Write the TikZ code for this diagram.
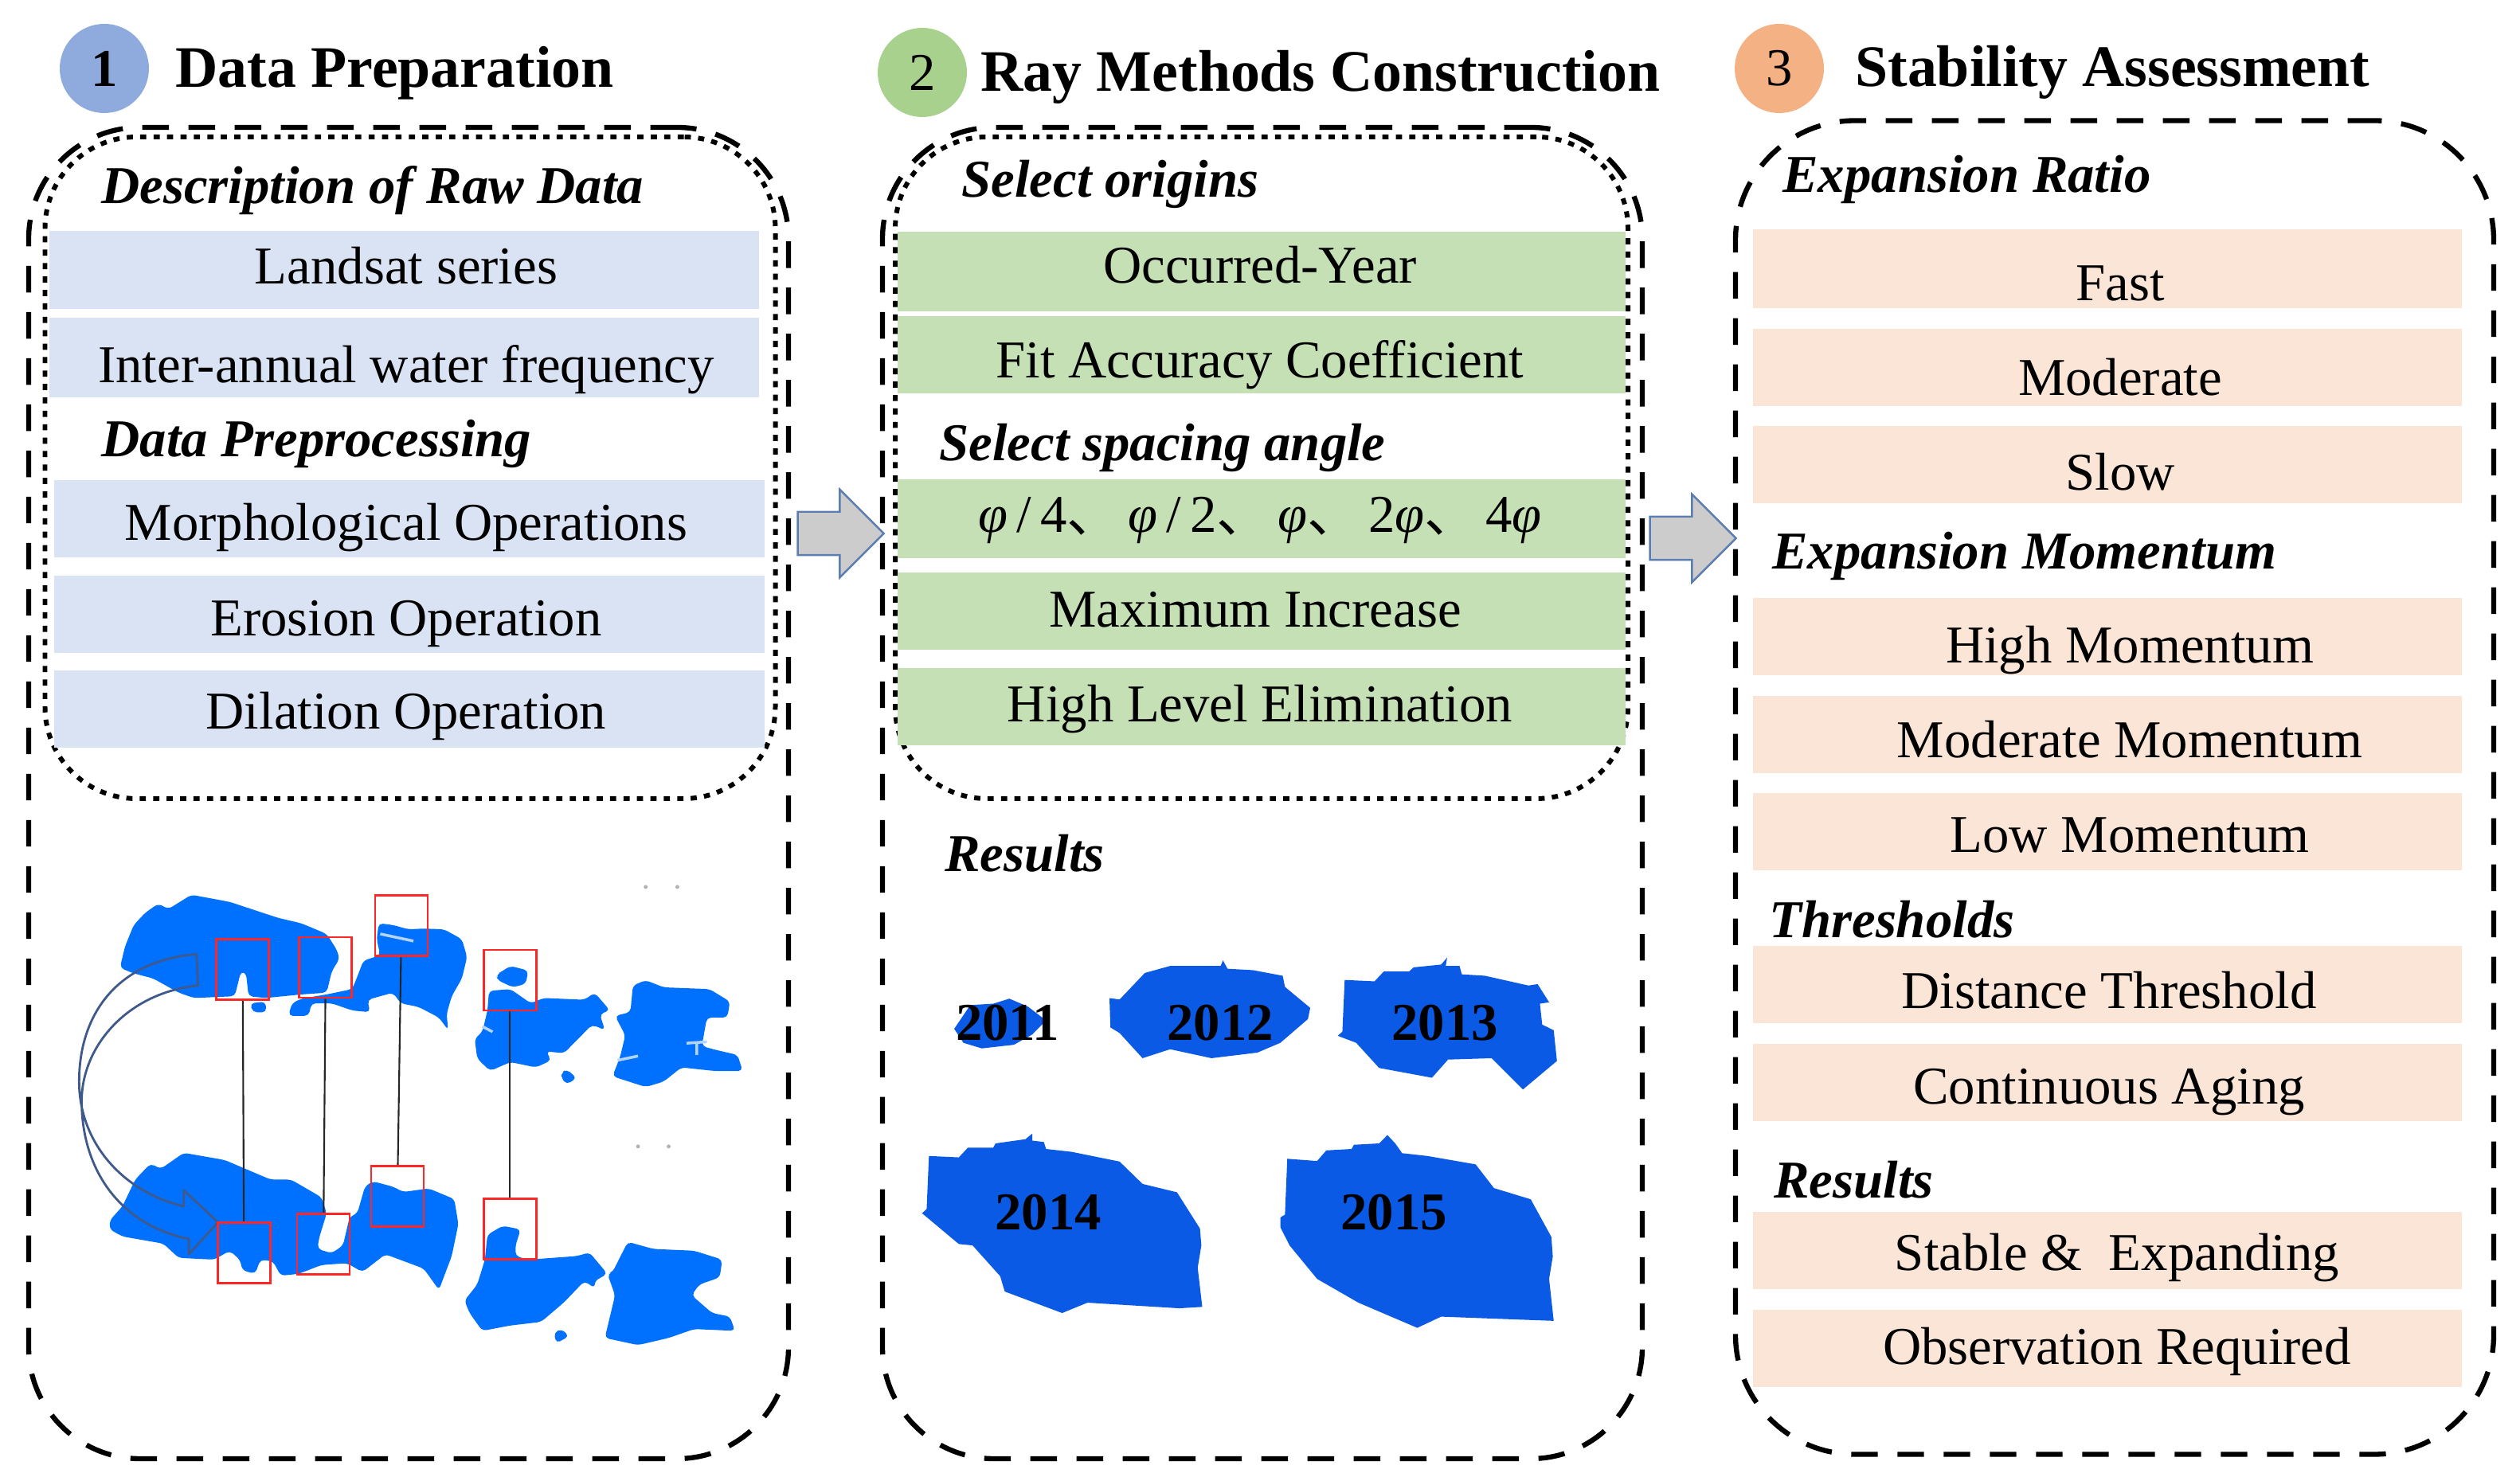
\documentclass[tikz,border=0pt]{standalone}
\usepackage{fontspec}
\setmainfont{Liberation Serif}
\newfontfamily\cjk{Noto Sans CJK SC}
\usetikzlibrary{positioning, shapes.arrows}
\definecolor{barblue}{HTML}{DAE3F3}
\definecolor{bargreen}{HTML}{C5E0B4}
\definecolor{barorange}{HTML}{FBE5D6}
\definecolor{waterblue}{HTML}{0070FF}
\definecolor{yearblue}{HTML}{0A5AE6}
\definecolor{numblue}{HTML}{8FAADC}
\definecolor{numgreen}{HTML}{A9D18E}
\definecolor{numorange}{HTML}{F4B183}
\definecolor{flowline}{HTML}{5B7DB1}
\definecolor{curveline}{HTML}{3F5A8A}
\begin{document}
\begin{tikzpicture}[
  font=\fontsize{19}{23}\selectfont,
  head/.style={font=\fontsize{21}{24}\selectfont\bfseries, anchor=base west},
  sub/.style={font=\fontsize{19}{23}\selectfont\bfseries\itshape, anchor=base west},
  num/.style={circle, minimum size=1.12cm, inner sep=0pt},
  outer/.style={draw, line width=1.8pt, dash pattern=on 9.5pt off 7pt, rounded corners=1.4cm},
  inner/.style={draw, line width=1.7pt, dash pattern=on 2.2pt off 2.6pt, rounded corners=1.15cm},
  bar/.style={minimum height=0.97cm, inner sep=0pt},
  bartext/.style={anchor=base, inner sep=0pt},
  year/.style={font=\fontsize{19}{23}\selectfont\bfseries, anchor=base, inner sep=0pt},
  water/.style={fill=waterblue, rounded corners=1.5pt},
  redbox/.style={draw=red!85!white, line width=0.8pt, minimum width=0.66cm, minimum height=0.76cm, inner sep=0pt},
  link/.style={draw=black!85, line width=0.6pt},
  flow/.style={single arrow, draw=flowline, fill=black!20, line width=0.7pt,
    minimum height=1.08cm, single arrow head extend=0.28cm,
    single arrow tip angle=90, inner xsep=0pt, inner ysep=0.26cm}
]
\useasboundingbox (0,0) rectangle (31.64,18.59);

% panels
\node[outer, minimum width=9.54cm, minimum height=16.72cm] (panelone) at (5.13,8.63) {};
\node[outer, minimum width=9.54cm, minimum height=16.72cm] (paneltwo) at (15.85,8.63) {};
\node[outer, minimum width=9.52cm, minimum height=16.75cm, rounded corners=1.5cm] (panelthree) at (26.55,8.70) {};
\node[inner, minimum width=9.17cm, minimum height=8.31cm] (dotone) at (5.15,12.715) {};
\node[inner, minimum width=9.20cm, minimum height=8.31cm] (dottwo) at (15.84,12.715) {};

% headers
\node[num, fill=numblue] (numone) at (1.31,17.73) {\bfseries 1};
\node[num, fill=numgreen] (numtwo) at (11.58,17.68) {2};
\node[num, fill=numorange] (numthree) at (22.34,17.73) {3};
\node[head] (headone) at (2.08,17.49) {Data Preparation};
\node[head] (headtwo) at (12.19,17.44) {Ray Methods Construction};
\node[head] (headthree) at (23.17,17.50) {Stability Assessment};

% first column
\node[sub] (descr) at (1.15,16.03) {Description of Raw Data};
\node[bar, fill=barblue, minimum width=8.91cm, minimum height=0.98cm] (landsat) at (5.07,15.20) {};
\node[bar, fill=barblue, minimum width=8.91cm, minimum height=1.0cm] (freq) at (5.07,14.10) {};
\node[sub] (prep) at (1.15,12.85) {Data Preprocessing};
\node[bar, fill=barblue, minimum width=8.92cm] (morph) at (5.14,12.07) {};
\node[bar, fill=barblue, minimum width=8.92cm, below=0.21cm of morph] (erosion) {};
\node[bar, fill=barblue, minimum width=8.92cm, below=0.21cm of erosion] (dilation) {};
\node[bartext] (landsattext) at (5.10,15.02) {Landsat series};
\node[bartext] (freqtext) at (5.10,13.78) {Inter-annual water frequency};
\node[bartext] (morphtext) at (5.10,11.80) {Morphological Operations};
\node[bartext] (erosiontext) at (5.10,10.60) {Erosion Operation};
\node[bartext] (dilationtext) at (5.10,9.43) {Dilation Operation};

% water maps
\begin{scope}[shift={(0,8.09)}, x=0.00641cm, y=-0.004464cm]
\fill[water] (235,370) -- (245,310) -- (262,250) -- (285,215) -- (310,190) -- (330,205) -- (375,165) -- (450,185) -- (545,230) -- (590,245) -- (640,275) -- (660,320) -- (665,345) -- (650,380) -- (640,440) -- (590,445) -- (520,455) -- (487,450) -- (482,385) -- (472,380) -- (460,450) -- (380,455) -- (350,440) -- (300,400) -- (260,385) -- cycle;
\fill[water] (490,470) -- (520,465) -- (522,495) -- (495,495) -- cycle;
\fill[water] (565,505) -- (572,470) -- (590,457) -- (640,445) -- (690,430) -- (700,395) -- (712,350) -- (745,335) -- (738,290) -- (742,245) -- (770,250) -- (800,262) -- (830,260) -- (870,262) -- (905,290) -- (915,340) -- (905,400) -- (885,450) -- (875,500) -- (878,545) -- (860,510) -- (820,480) -- (785,470) -- (770,440) -- (720,460) -- (725,495) -- (690,490) -- (650,470) -- (610,470) -- (605,505) -- cycle;
\fill[water] (972,390) -- (1000,365) -- (1035,378) -- (1030,415) -- (1005,425) -- (975,405) -- cycle;
\fill[water] (958,435) -- (1000,430) -- (1040,470) -- (1065,455) -- (1145,460) -- (1165,440) -- (1195,490) -- (1175,500) -- (1185,545) -- (1160,530) -- (1105,610) -- (1070,605) -- (1080,630) -- (1050,650) -- (1000,635) -- (960,660) -- (935,625) -- (930,570) -- (945,550) -- (955,490) -- cycle;
\fill[water] (1100,665) -- (1110,655) -- (1130,680) -- (1110,698) -- (1100,680) -- cycle;
\fill[water] (1205,505) -- (1235,495) -- (1240,420) -- (1265,405) -- (1300,425) -- (1390,430) -- (1430,465) -- (1425,510) -- (1385,510) -- (1375,590) -- (1400,600) -- (1445,615) -- (1455,660) -- (1400,660) -- (1335,650) -- (1300,690) -- (1265,705) -- (1200,675) -- (1215,620) -- (1225,560) -- cycle;
\draw[white!70!waterblue, line width=1pt] (745,275) -- (810,295) (945,535) -- (965,550) (1345,582) -- (1385,578) (1365,580) -- (1365,615) (1210,630) -- (1250,618);
\fill[water] (215,1080) -- (240,1040) -- (265,965) -- (295,920) -- (315,935) -- (360,890) -- (440,910) -- (530,965) -- (570,965) -- (630,1015) -- (640,1060) -- (625,1130) -- (622,1160) -- (650,1172) -- (672,1150) -- (685,1070) -- (700,1060) -- (715,985) -- (730,970) -- (770,985) -- (790,1000) -- (840,990) -- (890,1020) -- (898,1090) -- (885,1180) -- (860,1275) -- (830,1215) -- (755,1175) -- (710,1225) -- (680,1200) -- (630,1205) -- (585,1230) -- (550,1235) -- (535,1195) -- (510,1190) -- (500,1230) -- (475,1220) -- (470,1190) -- (450,1165) -- (420,1190) -- (350,1185) -- (320,1145) -- (240,1125) -- (215,1105) -- cycle;
\fill[water] (950,1190) -- (955,1120) -- (985,1095) -- (1020,1105) -- (1010,1150) -- (1010,1180) -- (1035,1190) -- (1130,1180) -- (1155,1170) -- (1190,1230) -- (1165,1250) -- (1165,1270) -- (1145,1250) -- (1105,1310) -- (1060,1365) -- (1000,1375) -- (945,1390) -- (920,1340) -- (910,1305) -- (935,1260) -- cycle;
\fill[water] (1085,1395) -- (1100,1385) -- (1115,1405) -- (1090,1425) -- cycle;
\fill[water] (1190,1230) -- (1200,1225) -- (1230,1140) -- (1280,1160) -- (1360,1165) -- (1415,1190) -- (1410,1240) -- (1370,1260) -- (1355,1290) -- (1395,1340) -- (1430,1350) -- (1440,1390) -- (1360,1385) -- (1310,1410) -- (1250,1430) -- (1185,1410) -- (1195,1350) -- (1205,1290) -- cycle;
\foreach \spotx/\spoty in {1265/143, 1327/143, 1250/872, 1310/872}
  \fill[black!30] (\spotx,\spoty) circle (0.7pt);
% curved arrow
\draw[draw=curveline, line width=0.8pt, line join=round]
  (385,332) .. controls (230,350) and (155,500) .. (155,690) .. controls (155,860) and (240,1000) .. (360,1040)
  -- (360,995) -- (427,1085) -- (370,1175) -- (370,1132)
  .. controls (230,1090) and (160,930) .. (160,745) .. controls (160,590) and (250,440) .. (388,420) -- cycle;
% red boxes
\node[redbox] (topa) at (475.5,375) {};
\node[redbox] (topb) at (638,369) {};
\node[redbox] (topc) at (786.5,252.5) {};
\node[redbox] (topd) at (999,405) {};
\node[redbox] (lowa) at (478,1170.5) {};
\node[redbox] (lowb) at (633.5,1146) {};
\node[redbox] (lowc) at (778.5,1012.5) {};
\node[redbox] (lowd) at (999,1104) {};
\draw[link] (topa) -- (lowa);
\draw[link] (topb) -- (lowb);
\draw[link] (topc) -- (lowc);
\draw[link] (topd) -- (lowd);
\end{scope}

% second column
\node[sub] (origins) at (11.95,16.11) {Select origins};
\node[bar, fill=bargreen, minimum width=9.14cm, minimum height=1.0cm] (occurred) at (15.84,15.18) {};
\node[bar, fill=bargreen, minimum width=9.14cm] (fit) at (15.84,14.13) {};
\node[sub] (spacing) at (11.67,12.80) {Select spacing angle};
\node[bar, fill=bargreen, minimum width=9.14cm, minimum height=0.99cm] (angle) at (15.84,12.07) {};
\node[bar, fill=bargreen, minimum width=9.14cm, below=0.16cm of angle] (increase) {};
\node[bar, fill=bargreen, minimum width=9.14cm, below=0.22cm of increase] (elimination) {};
\node[bartext] (occurredtext) at (15.82,15.03) {Occurred-Year};
\node[bartext] (fittext) at (15.82,13.84) {Fit Accuracy Coefficient};
\node[bartext] (angletext) at (15.82,11.90) {{\itshape φ}\,/\,4{\cjk 、}\hspace{0.1cm}{\itshape φ}\,/\,2{\cjk 、}\hspace{0.1cm}{\itshape φ}{\cjk 、}\hspace{0.1cm}2{\itshape φ}{\cjk 、}\hspace{0.1cm}4{\itshape φ}};
\node[bartext] (increasetext) at (15.76,10.71) {Maximum Increase};
\node[bartext] (eliminationtext) at (15.82,9.52) {High Level Elimination};
\node[sub] (resultsmid) at (11.74,7.64) {Results};

% yearly extent
\begin{scope}[shift={(11,18.59-11.5)}, x=0.00577cm, y=-0.00351cm]
\fill[yearblue] (170,405) -- (205,320) -- (255,315) -- (290,297) -- (330,325) -- (370,375) -- (340,425) -- (300,462) -- (230,475) -- (190,455) -- cycle;
\fill[yearblue] (508,295) -- (530,300) -- (585,205) -- (640,180) -- (750,180) -- (755,160) -- (765,190) -- (820,195) -- (885,215) -- (890,255) -- (945,330) -- (940,370) -- (880,455) -- (830,490) -- (730,510) -- (640,478) -- (580,510) -- (530,420) -- (510,400) -- cycle;
\fill[yearblue] (1020,230) -- (1085,235) -- (1105,200) -- (1160,200) -- (1170,185) -- (1230,175) -- (1243,150) -- (1240,180) -- (1270,180) -- (1275,210) -- (1325,215) -- (1420,250) -- (1440,245) -- (1465,310) -- (1445,315) -- (1450,390) -- (1475,410) -- (1482,520) -- (1408,622) -- (1340,510) -- (1245,515) -- (1210,580) -- (1095,545) -- (1045,455) -- (1005,430) -- (1015,415) -- cycle;
\fill[yearblue] (115,860) -- (180,865) -- (200,830) -- (255,830) -- (260,815) -- (325,800) -- (340,780) -- (340,805) -- (365,810) -- (370,835) -- (425,845) -- (530,880) -- (580,960) -- (655,990) -- (705,1120) -- (708,1180) -- (700,1260) -- (710,1400) -- (660,1405) -- (460,1385) -- (405,1422) -- (280,1345) -- (270,1290) -- (210,1180) -- (180,1175) -- (100,1065) -- (110,1050) -- cycle;
\fill[yearblue] (895,870) -- (960,878) -- (980,840) -- (1035,835) -- (1040,820) -- (1095,815) -- (1113,785) -- (1130,815) -- (1145,850) -- (1200,860) -- (1305,890) -- (1345,975) -- (1425,1015) -- (1470,1150) -- (1473,1220) -- (1465,1300) -- (1475,1450) -- (1230,1435) -- (1178,1475) -- (1050,1385) -- (960,1300) -- (900,1180) -- (880,1115) -- (880,1080) -- (890,1070) -- cycle;
\end{scope}
\node[year] (yearone) at (12.65,5.52) {2011};
\node[year] (yeartwo) at (15.32,5.52) {2012};
\node[year] (yearthree) at (18.14,5.52) {2013};
\node[year] (yearfour) at (13.16,3.14) {2014};
\node[year] (yearfive) at (17.50,3.14) {2015};

% third column
\node[sub] (ratio) at (22.26,16.17) {Expansion Ratio};
\node[bar, fill=barorange, minimum width=8.90cm, minimum height=0.99cm] (fast) at (26.46,15.21) {};
\node[bar, fill=barorange, minimum width=8.90cm, below=0.24cm of fast] (moderate) {};
\node[bar, fill=barorange, minimum width=8.90cm, below=0.24cm of moderate] (slow) {};
\node[bar, fill=barorange, minimum width=8.90cm] (high) at (26.46,10.59) {};
\node[bar, fill=barorange, minimum width=8.90cm, below=0.24cm of high] (mid) {};
\node[bar, fill=barorange, minimum width=8.90cm, below=0.24cm of mid] (low) {};
\node[bar, fill=barorange, minimum width=8.90cm] (distance) at (26.46,6.22) {};
\node[bar, fill=barorange, minimum width=8.90cm, below=0.24cm of distance] (aging) {};
\node[bar, fill=barorange, minimum width=8.90cm] (stable) at (26.46,2.88) {};
\node[bar, fill=barorange, minimum width=8.90cm, below=0.24cm of stable] (observe) {};
\node[bartext] (fasttext) at (26.62,14.81) {Fast};
\node[bartext] (moderatetext) at (26.62,13.62) {Moderate};
\node[bartext] (slowtext) at (26.62,12.43) {Slow};
\node[sub] (momentum) at (22.13,11.44) {Expansion Momentum};
\node[bartext] (hightext) at (26.74,10.26) {High Momentum};
\node[bartext] (midtext) at (26.74,9.07) {Moderate Momentum};
\node[bartext] (lowtext) at (26.74,7.88) {Low Momentum};
\node[sub] (thresholds) at (22.09,6.81) {Thresholds};
\node[bartext] (distancetext) at (26.48,5.92) {Distance Threshold};
\node[bartext] (agingtext) at (26.48,4.72) {Continuous Aging};
\node[sub] (resultsright) at (22.15,3.54) {Results};
\node[bartext] (stabletext) at (26.58,2.63) {Stable \&\ \ Expanding};
\node[bartext] (observetext) at (26.58,1.46) {Observation Required};

% arrows between columns
\node[flow] (flowone) at (10.42,11.89) {};
\node[flow] (flowtwo) at (21.12,11.83) {};
\end{tikzpicture}
\end{document}
